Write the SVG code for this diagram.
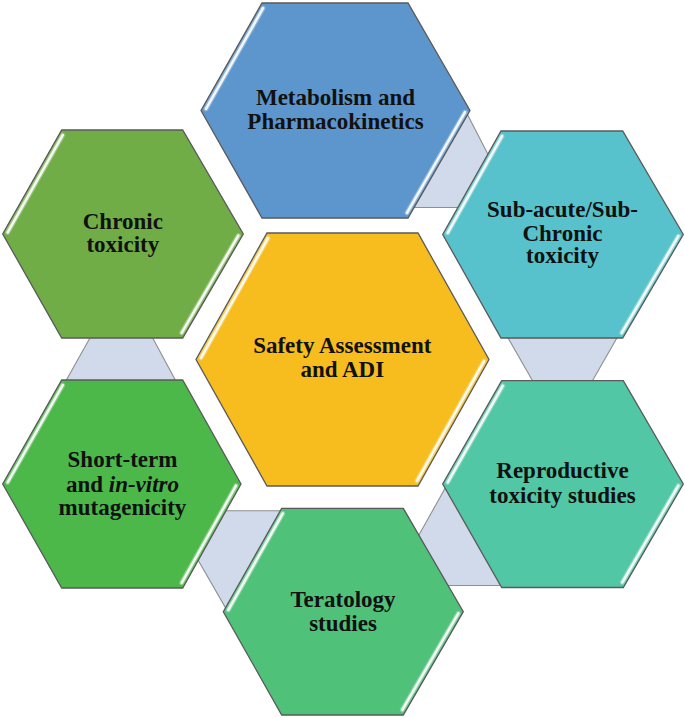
<svg xmlns="http://www.w3.org/2000/svg" width="685" height="718" viewBox="0 0 685 718">
<style>
.hex{stroke:#5a5a5a;stroke-width:1.3;stroke-linejoin:miter}
.con{fill:#D0DAEA;stroke:#8f8f8f;stroke-width:1.1;stroke-linejoin:miter}
.hl{stroke:#ffffff;stroke-width:2.6;stroke-linecap:round;opacity:0.9}
.hlg{stroke:#ffffff;stroke-width:5;stroke-linecap:round;opacity:0.3}
.t{font-family:"Liberation Serif","Times New Roman",serif;font-weight:bold;font-size:23px;fill:#111;text-anchor:middle}
</style>
<rect width="685" height="718" fill="#ffffff"/>
<g id="connectors">
<polygon class="con" points="460,100 495,168 470,207.5 410,207.5"/>
<polygon class="con" points="100,320 143,320 183.4,395 58,395"/>
<polygon class="con" points="500.7,325 624.3,325 584.3,395 540.7,395"/>
<polygon class="con" points="452,476 510,585.5 440,585.5 415,542"/>
<polygon class="con" points="215,510.7 290,510.7 232.6,620 190,546"/>
</g>
<g id="metabolism">
<polygon class="hex" fill="#5D95CD" points="262,3 408,3 470,110.5 408,218 262,218 201,110.5"/>
<line class="hlg" x1="263" y1="8.2" x2="206" y2="108.8"/><line class="hl" x1="263" y1="8.2" x2="206" y2="108.8"/>
<line class="hlg" x1="465" y1="112.2" x2="407" y2="212.8"/><line class="hl" x1="465" y1="112.2" x2="407" y2="212.8"/>
<text class="t" x="335.5" y="105">Metabolism and</text>
<text class="t" x="335.5" y="128.5">Pharmacokinetics</text>
</g>
<g id="chronic">
<polygon class="hex" fill="#70AD47" points="61.7,130 182.7,130 243.3,234 182.7,338 61.7,338 2.7,234"/>
<line class="hlg" x1="62.7" y1="135.2" x2="7.7" y2="232.3"/><line class="hl" x1="62.7" y1="135.2" x2="7.7" y2="232.3"/>
<line class="hlg" x1="238.3" y1="235.7" x2="181.7" y2="332.8"/><line class="hl" x1="238.3" y1="235.7" x2="181.7" y2="332.8"/>
<text class="t" x="122.8" y="229.3">Chronic</text>
<text class="t" x="122.8" y="251.7">toxicity</text>
</g>
<g id="subacute">
<polygon class="hex" fill="#57C2CB" points="501,131 622.7,131 683.3,234.5 622.7,338 501,338 442.7,234.5"/>
<line class="hlg" x1="502" y1="136.2" x2="447.7" y2="232.8"/><line class="hl" x1="502" y1="136.2" x2="447.7" y2="232.8"/>
<line class="hlg" x1="678.3" y1="236.2" x2="621.7" y2="332.8"/><line class="hl" x1="678.3" y1="236.2" x2="621.7" y2="332.8"/>
<text class="t" x="562.5" y="217.3">Sub-acute/Sub-</text>
<text class="t" x="562.5" y="240.5">Chronic</text>
<text class="t" x="562.5" y="263.3">toxicity</text>
</g>
<g id="safety">
<polygon class="hex" fill="#F7BC1E" points="267,233 418,233 489,359.5 418,486 267,486 196,359.5"/>
<line class="hlg" x1="268" y1="238.2" x2="201" y2="357.8"/><line class="hl" x1="268" y1="238.2" x2="201" y2="357.8"/>
<line class="hlg" x1="484" y1="361.2" x2="417" y2="480.8"/><line class="hl" x1="484" y1="361.2" x2="417" y2="480.8"/>
<text class="t" x="342.3" y="353.3">Safety Assessment</text>
<text class="t" x="342.3" y="377.3">and ADI</text>
</g>
<g id="shortterm">
<polygon class="hex" fill="#4CB84A" points="61.7,380 182.7,380 241,484 182.7,588 61.7,588 2.7,484"/>
<line class="hlg" x1="62.7" y1="385.2" x2="7.7" y2="482.3"/><line class="hl" x1="62.7" y1="385.2" x2="7.7" y2="482.3"/>
<line class="hlg" x1="236" y1="485.7" x2="181.7" y2="582.8"/><line class="hl" x1="236" y1="485.7" x2="181.7" y2="582.8"/>
<text class="t" x="122.5" y="467.3">Short-term</text>
<text class="t" x="122.5" y="491.5">and <tspan font-style="italic">in-vitro</tspan></text>
<text class="t" x="122.5" y="515">mutagenicity</text>
</g>
<g id="reproductive">
<polygon class="hex" fill="#52C7A5" points="501.7,380.7 623.3,380.7 683.3,484 623.3,587.5 501.7,587.5 442.7,484"/>
<line class="hlg" x1="502.7" y1="385.9" x2="447.7" y2="482.3"/><line class="hl" x1="502.7" y1="385.9" x2="447.7" y2="482.3"/>
<line class="hlg" x1="678.3" y1="485.7" x2="622.3" y2="582.3"/><line class="hl" x1="678.3" y1="485.7" x2="622.3" y2="582.3"/>
<text class="t" x="562.5" y="478.3">Reproductive</text>
<text class="t" x="562.5" y="502.7">toxicity studies</text>
</g>
<g id="teratology">
<polygon class="hex" fill="#4FC179" points="281.7,508.3 403.3,508.3 463.3,611.7 403.3,715 281.7,715 223.3,611.7"/>
<line class="hlg" x1="282.7" y1="513.5" x2="228.3" y2="610"/><line class="hl" x1="282.7" y1="513.5" x2="228.3" y2="610"/>
<line class="hlg" x1="458.3" y1="613.4" x2="402.3" y2="709.8"/><line class="hl" x1="458.3" y1="613.4" x2="402.3" y2="709.8"/>
<text class="t" x="343" y="606.7">Teratology</text>
<text class="t" x="343" y="631">studies</text>
</g>
</svg>
